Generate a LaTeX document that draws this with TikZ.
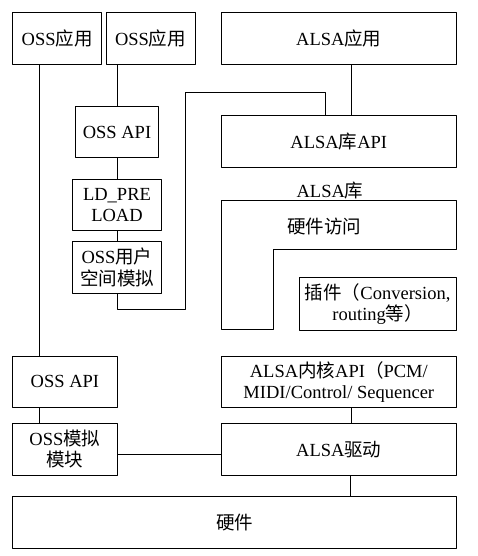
\documentclass[tikz,border=0pt]{standalone}
\usepackage{fontspec}
\setmainfont{Liberation Serif}
\newfontfamily\cjk{Noto Sans CJK SC}
\newcommand{\zh}[1]{{\cjk #1}}
\begin{document}
\begin{tikzpicture}[x=1pt, y=-1pt, line join=round, line width=0.8pt,
	font=\fontsize{18.5}{21.5}\selectfont,
	box/.style={draw, inner sep=0pt, align=center, minimum height=51.6pt}]
	\useasboundingbox (0,0) rectangle (477,556);
	% top row
	\node[box, minimum width=89pt] (ossappA) at (57.2,38.2) {OSS\zh{应用}};
	\node[box, minimum width=89pt] (ossappB) at (150.5,38.2) {OSS\zh{应用}};
	\node[box, minimum width=235.5pt] (alsaapp) at (338.8,38.2) {ALSA\zh{应用}};
	% OSS emulation in user space
	\node[box, minimum width=83pt] (ossapi) at (117,132) {OSS API};
	\node[box, minimum width=89pt] (ldpre) at (117,204.8) {LD\_PRE\\LOAD};
	\node[box, minimum width=89pt] (ossemu) at (117,267.5) {OSS\zh{用户}\\\zh{空间模拟}};
	% ALSA library
	\node[box, minimum width=235.5pt] (alsalibapi) at (338.8,141.7) {ALSA\zh{库}API};
	\node (alsalib) at (330,191) {ALSA\zh{库}};
	\draw (221,200) -- (456.5,200) -- (456.5,249) -- (273.3,249)
		-- (273.3,329.3) -- (221,329.3) -- cycle;
	\node (hwacc) at (324,226.5) {\zh{硬件访问}};
	\node[box, minimum width=156.7pt, minimum height=53.4pt] (plugin) at (377.7,304)
		{\zh{插件（}Conversion,\\routing\zh{等）}};
	% kernel
	\node[box, minimum width=235.5pt] (kapi) at (338.8,381.8)
		{ALSA\zh{内核}API\zh{（}PCM/\\MIDI/Control/ Sequencer};
	\node[box, minimum width=235.5pt] (alsadrv) at (338.8,449.2) {ALSA\zh{驱动}};
	\node[box, minimum width=104.3pt] (ossapiK) at (64.9,381.8) {OSS API};
	\node[box, minimum width=104.3pt] (ossmod) at (64.9,449.2) {OSS\zh{模拟}\\\zh{模块}};
	\node[box, minimum width=443.8pt] (hw) at (234.6,522.5) {\zh{硬件}};
	% connectors
	\path
	(39,0) coordinate (lx)
	(351.7,0) coordinate (rx)
	(325.7,92) coordinate (up)
	(185,309) coordinate (dn)
	(0,454.3) coordinate (my)
	;
	\draw (ossappA.south -| lx) -- (ossapiK.north -| lx);
	\draw (ossapiK.south -| lx) -- (ossmod.north -| lx);
	\draw (ossapi.north |- ossappB.south) -- (ossapi.north);
	\draw (ossapi.south) -- (ldpre.north);
	\draw (ldpre.south) -- (ossemu.north);
	\draw (ossemu.south) |- (dn) |- (up) -- (alsalibapi.north -| up);
	\draw (alsaapp.south -| rx) -- (alsalibapi.north -| rx);
	\draw (kapi.south -| rx) -- (alsadrv.north -| rx);
	\draw (alsadrv.south -| 350,0) -- (hw.north -| 350,0);
	\draw (ossmod.east |- my) -- (alsadrv.west |- my);
\end{tikzpicture}
\end{document}
